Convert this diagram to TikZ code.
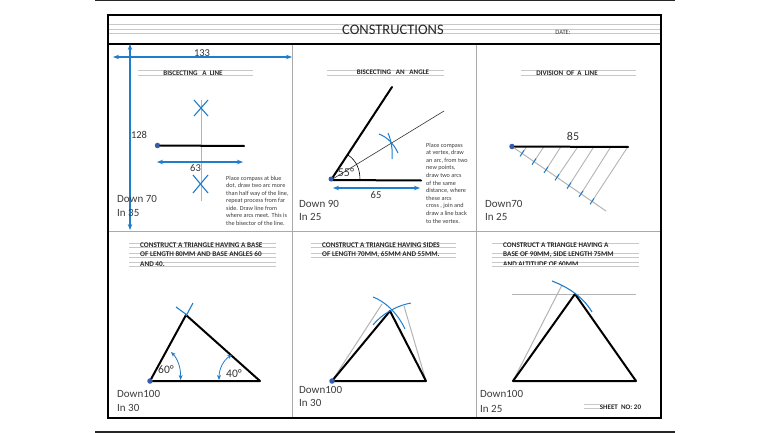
\documentclass[tikz,border=0pt]{standalone}
\usepackage{fontspec}
\setmainfont{Carlito}
\usetikzlibrary{arrows.meta}
\definecolor{cblue}{RGB}{30,125,205}
\definecolor{dotblue}{RGB}{55,90,170}
\definecolor{rulegray}{RGB}{200,200,200}
\definecolor{txt}{RGB}{60,60,60}
\tikzset{
 x=1pt,y=-1pt,
 heavy/.style={draw=black,line width=2.2pt},
 shape line/.style={draw=black,line width=2pt,line cap=round,line join=miter},
 panel/.style={draw=rulegray!85!black,line width=1pt},
 rulel/.style={draw=rulegray,line width=.7pt},
 guide/.style={draw=rulegray!90!black,line width=1pt},
 dim/.style={draw=cblue,line width=1.2pt,{Stealth[length=6pt,width=4.5pt]}-{Stealth[length=6pt,width=4.5pt]}},
 arcb/.style={draw=cblue,line width=.9pt},
 dotn/.style={circle,fill=dotblue,inner sep=0pt,minimum size=5.5pt},
 lab/.style={inner sep=0pt,text=txt,font=\fontsize{11}{14}\selectfont,anchor=west},
 dimlab/.style={inner sep=0pt,text=black!80,font=\fontsize{10.5}{12}\selectfont},
 ttl/.style={inner sep=0pt,text=black!85,font=\fontsize{7}{8}\selectfont\bfseries},
 ttlb/.style={inner sep=0pt,text=black!85,font=\fontsize{7.2}{9.400}\selectfont\bfseries,anchor=west,align=left},
 note/.style={inner sep=0pt,text=txt,font=\fontsize{6.2}{7.5}\selectfont,align=left,anchor=north west},
}
\begin{document}
\begin{tikzpicture}
\useasboundingbox (0,0) rectangle (768,433);
\fill[white] (0,0) rectangle (768,433);
% page rules
\draw[black!85,line width=1.2pt] (95,.6) -- (675,.6);
\draw[black!85,line width=1.2pt] (95,432) -- (675,432);
% header rules
\foreach \y in {24.5,29,33.5}\draw[rulel] (109,\y) -- (660,\y);
% panel dividers
\draw[panel] (292,44) -- (292,418);
\draw[panel] (476,44) -- (476,418);
\draw[panel] (109,231) -- (660,231);
% frame
\draw[heavy] (108,15) rectangle (661,418);
\draw[heavy] (108,44) -- (661,44);
\node[inner sep=0pt,text=black!85,font=\fontsize{14.5}{16}\selectfont] (title) at (393,30) {CONSTRUCTIONS};
\node[inner sep=0pt,text=txt,font=\fontsize{6.5}{8}\selectfont] (date) at (563,32) {DATE:};

% title rules
\foreach \a/\b/\y in {138/253/70,138/253/75,327/444/70,327/444/75,521/636/70,521/636/75,
 129/276/243,129/276/247,129/276/253,129/276/257,129/276/262,129/276/266,
 311/456/243,311/456/247,311/456/253,311/456/257,
 492/639/243,492/639/253,492/639/257,492/639/262,492/639/266,
 584/600/404,584/600/408}
 \draw[rulel] (\a,\y) -- (\b,\y);

% panel 1
\coordinate (h1) at (113,57); \coordinate (h2) at (292,57);
\coordinate (v1) at (130,44); \coordinate (v2) at (130,230);
\draw[dim] (h1) -- (h2);
\draw[dim] (v1) -- (v2);
\node[dimlab] (n133) at (202,53) {133};
\node[dimlab] (n128) at (139,134.5) {128};
\node[ttl] (t1) at (193,73.3) {BISCECTING\ \ \ A\ \ LINE};
\coordinate (b1) at (201,100); \coordinate (b2) at (201,201);
\draw[guide] (b1) -- (b2);
\draw[arcb,line width=1.1pt] (194,116) -- (208,100) (194,100) -- (208,116);
\draw[arcb,line width=1.1pt] (193,175) -- (208,193) (208,175) -- (193,193);
\node[dotn] (d1) at (157.5,145.5) {};
\coordinate (e1) at (244,146);
\draw[shape line] (d1) -- (e1);
\coordinate (a1) at (157,162); \coordinate (a2) at (243,162);
\draw[dim] (a1) -- (a2);
\node[dimlab] (n63) at (195.500,168) {63};
\node[note] (p1) at (226,175.500) {Place compass at blue\\dot, draw two arc more\\than half way of the line,\\repeat process from far\\side. Draw line from\\where arcs meet. This is\\the bisector of the line.};
\node[lab] (l1a) at (117,199) {Down 70};
\node[lab] (l1b) at (117,213) {In 35};

% panel 2
\node[ttl] (t2) at (393,72.5) {BISCECTING\ \ \ AN\ \ \ ANGLE};
\coordinate (va) at (331,180); \coordinate (vb) at (392,87); \coordinate (vc) at (421,180.5);
\coordinate (vd) at (444,111);
\draw[black!80,line width=.6pt] (va) -- (vd);
\draw[shape line] (vb) -- (va);
\draw[shape line] (va) -- (vc);
\draw[black,line width=.6pt] (360,180) .. controls (360,170) and (357,161) .. (348,155);
\node[dotn,minimum size=5pt] (d2) at (331,179) {};
\draw[arcb,line width=1pt] (379,134) .. controls (387,137) and (394,144) .. (398,153);
\draw[arcb,line width=1pt] (388,133) .. controls (391,140) and (393,150) .. (392,159);
\draw[dim] (333,188) -- (420,188);
\node[dimlab] (n65) at (376,194.500) {65};
\node[inner sep=0pt,text=black!75,font=\fontsize{12}{14}\selectfont] (n55) at (346,172) {55°};
\node[note,font=\fontsize{6.2}{7.6}\selectfont] (p2) at (426,142.500) {Place compass\\at vertex, draw\\an arc, from two\\new points,\\draw two arcs\\of the same\\distance, where\\these arcs\\cross , join and\\draw a line back\\to the vertex.};
\node[lab] (l2a) at (299,204) {Down 90};
\node[lab] (l2b) at (299,217) {In 25};

% panel 3
\node[ttl] (t3) at (567,73) {DIVISION\ \ OF\ \ A\ \ LINE};
\node[dimlab,font=\fontsize{12}{14}\selectfont] (n85) at (573,136) {85};
\coordinate (g1) at (512,146.500); \coordinate (g2) at (606,211);
\draw[guide] (g1) -- (g2);
\foreach \p/\q in {527/522,544/534,561/546,578/557,594/569,611/581,628/592}{
  \pgfmathsetmacro{\yy}{146.5+(\q-512)*64.5/94}
  \draw[guide,line width=.9pt] (\p,146.500) -- (\q,\yy);
  \draw[arcb,line width=1pt] (\q+2,\yy-3) -- (\q-2,\yy+3);
}
\node[dotn] (d3) at (g1) {};
\coordinate (g3) at (628,147);
\draw[shape line] (d3) -- (g3);
\node[lab] (l3a) at (485,204) {Down70};
\node[lab] (l3b) at (485,217) {In 25};

% panel 4
\node[ttlb] (t4) at (140,254.500) {CONSTRUCT A TRIANGLE HAVING A BASE\\OF LENGTH 80MM AND BASE ANGLES 60\\AND 40.};
\coordinate (A4) at (150,381); \coordinate (B4) at (260,381); \coordinate (C4) at (186,315);
\draw[shape line,line join=round] (A4) -- (B4) -- (C4) -- cycle;
\node[dotn] (d4) at (A4) {};
\draw[arcb,line width=1.1pt] (176,307) -- (187,315) (193,303) -- (186,316);
\draw[dim,line width=.8pt,{Stealth[length=5pt,width=4pt]}-{Stealth[length=5pt,width=4pt]}] (180.500,380) .. controls (181,367) and (177,358) .. (171,352);
\draw[dim,line width=.8pt,{Stealth[length=5pt,width=4pt]}-{Stealth[length=5pt,width=4pt]}] (219,380) .. controls (219,368) and (224,360) .. (232,354.500);
\node[dimlab,font=\fontsize{11.5}{13}\selectfont] (n60) at (166,370) {60°};
\node[dimlab,font=\fontsize{11.5}{13}\selectfont] (n40) at (234,374) {40°};
\node[lab] (l4a) at (117,394) {Down100};
\node[lab] (l4b) at (117,408) {In 30};

% panel 5
\node[ttlb] (t5) at (322,250) {CONSTRUCT A TRIANGLE HAVING SIDES\\OF LENGTH 70MM, 65MM AND 55MM.};
\coordinate (A5) at (332,381); \coordinate (B5) at (426,381); \coordinate (C5) at (390,311);
\coordinate (P5) at (382,304); \coordinate (Q5) at (404,306);
\draw[guide] (A5) -- (P5);
\draw[guide] (B5) -- (Q5);
\draw[shape line,line join=round] (A5) -- (B5) -- (C5) -- cycle;
\node[dotn] (d5) at (A5) {};
\draw[arcb,line width=1pt] (373,297) .. controls (384,301) and (397,312) .. (405,329);
\draw[arcb,line width=1pt] (373,325) .. controls (381,315) and (395,306) .. (411,303);
\node[lab] (l5a) at (299,390) {Down100};
\node[lab] (l5b) at (299,403) {In 30};

% panel 6
\begin{scope}
\clip (492,240) rectangle (639,264.800);
\node[ttlb,anchor=north west,font=\fontsize{7.2}{9.200}\selectfont\bfseries] (t6) at (503,242.800) {CONSTRUCT A TRIANGLE HAVING A\\BASE OF 90MM, SIDE LENGTH 75MM\\AND ALTITUDE OF 60MM};
\end{scope}
\draw[rulel] (492,266) -- (639,266);
\coordinate (A6) at (513,381); \coordinate (B6) at (636,381); \coordinate (C6) at (575,294);
\coordinate (P6) at (562,285); \coordinate (H1) at (512,294); \coordinate (H2) at (636,294);
\draw[guide] (H1) -- (H2);
\draw[guide] (A6) -- (P6);
\draw[shape line,line join=round] (A6) -- (B6) -- (C6) -- cycle;
\draw[arcb,line width=1.1pt] (552,281) .. controls (565,286) and (582,295) .. (592,312);
\node[lab] (l6a) at (480,394) {Down100};
\node[lab] (l6b) at (480,409) {In 25};
\node[ttl] (sheet) at (620.500,407) {SHEET\ \ NO: 20};
\end{tikzpicture}
\end{document}
